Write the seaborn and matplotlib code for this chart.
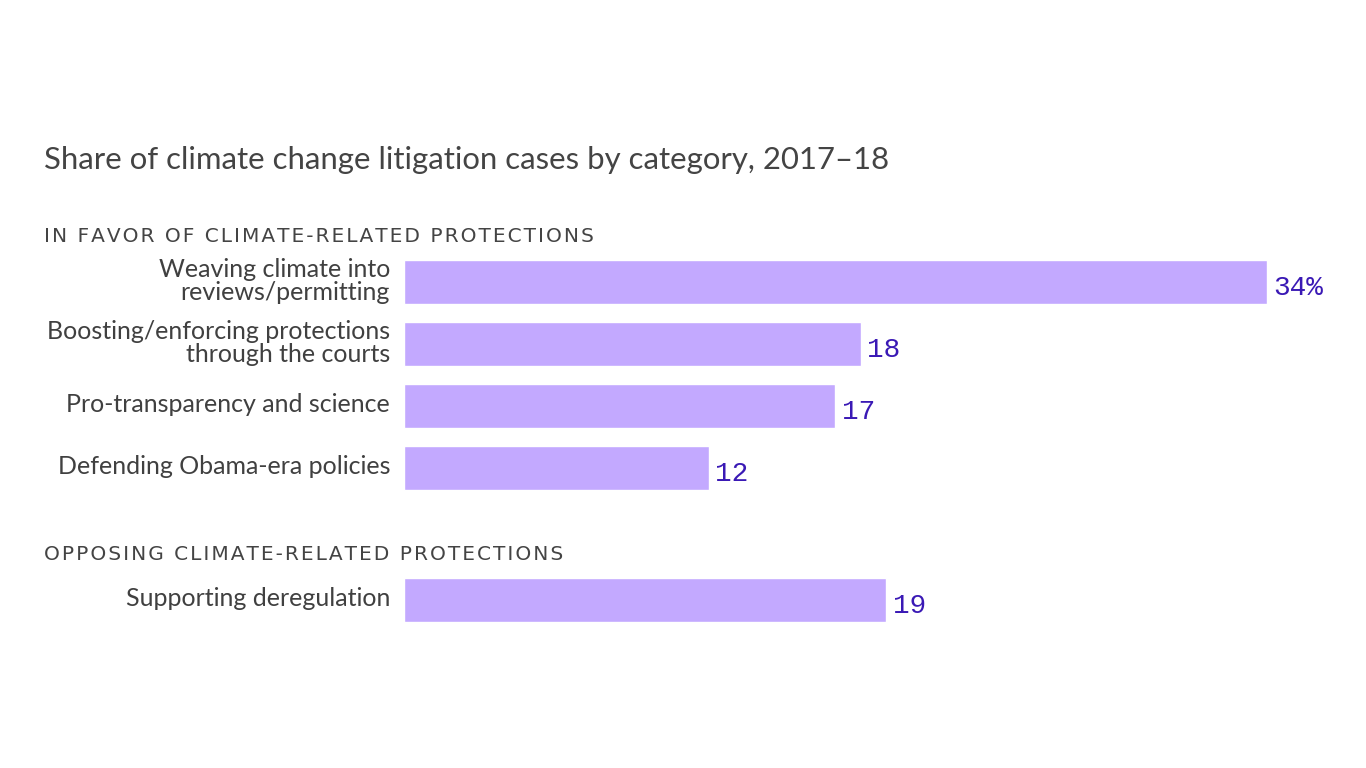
import pandas as pd
import seaborn as sns
import matplotlib.pyplot as plt

# dados
categorias = ['Weaving climate into\nreviews/permitting',
              'Boosting/enforcing protections\nthrough the courts',
              'Pro-transparency and science',
              'Defending Obama-era policies',
              'Supporting deregulation']
valores = [34, 18, 17, 12, 19]
rotulos = ['34%', '18', '17', '12', '19']
posicoes = [0, 1, 2, 3, 5.13]
grupos = ['IN FAVOR OF CLIMATE-RELATED PROTECTIONS',
          'OPPOSING CLIMATE-RELATED PROTECTIONS']

df = pd.DataFrame({'cat': categorias, 'valor': valores, 'pos': posicoes})

sns.set_theme(style='white')
plt.rcParams['font.family'] = ['Lato', 'DejaVu Sans']

W, H = 1366, 768
fig = plt.figure(figsize=(13.66, 7.68), dpi=100)
top, bottom = 260, 622
ax = fig.add_axes([404 / W, 1 - bottom / H, (1267 - 404) / W, (bottom - top) / H])

sns.barplot(data=df, x='valor', y='pos', orient='y', native_scale=True,
            color='#c3a9ff', saturation=1, width=0.71, ax=ax)

ax.set_xlim(0, 34)
ax.set_ylim(5.13 + 0.355, -0.355)
ax.axis('off')

for p, v, r, c in zip(posicoes, valores, rotulos, categorias):
    ax.text(v + 0.25, p + 0.1, r, ha='left', va='center', fontsize=20,
            color='#3a19b5', family='Liberation Mono')
    ax.text(-0.55, p - 0.02, c, ha='right', va='center', fontsize=18,
            color='#404040', linespacing=1.0)

fig.text(44 / W, 1 - 160 / H, 'Share of climate change litigation cases by category, 2017–18',
         ha='left', va='center', fontsize=22.4, color='#444444')

# espaçamento entre letras nos cabeçalhos
def espacar(s):
    return '\u200a'.join(s)

fig.text(44 / W, 1 - 236 / H, espacar(grupos[0]), ha='left', va='center', fontsize=14.5,
         color='#444444', family='DejaVu Sans')
fig.text(44 / W, 1 - 554 / H, espacar(grupos[1]), ha='left', va='center', fontsize=14.5,
         color='#444444', family='DejaVu Sans')

fig.savefig('out.png', dpi=100, facecolor='white')
